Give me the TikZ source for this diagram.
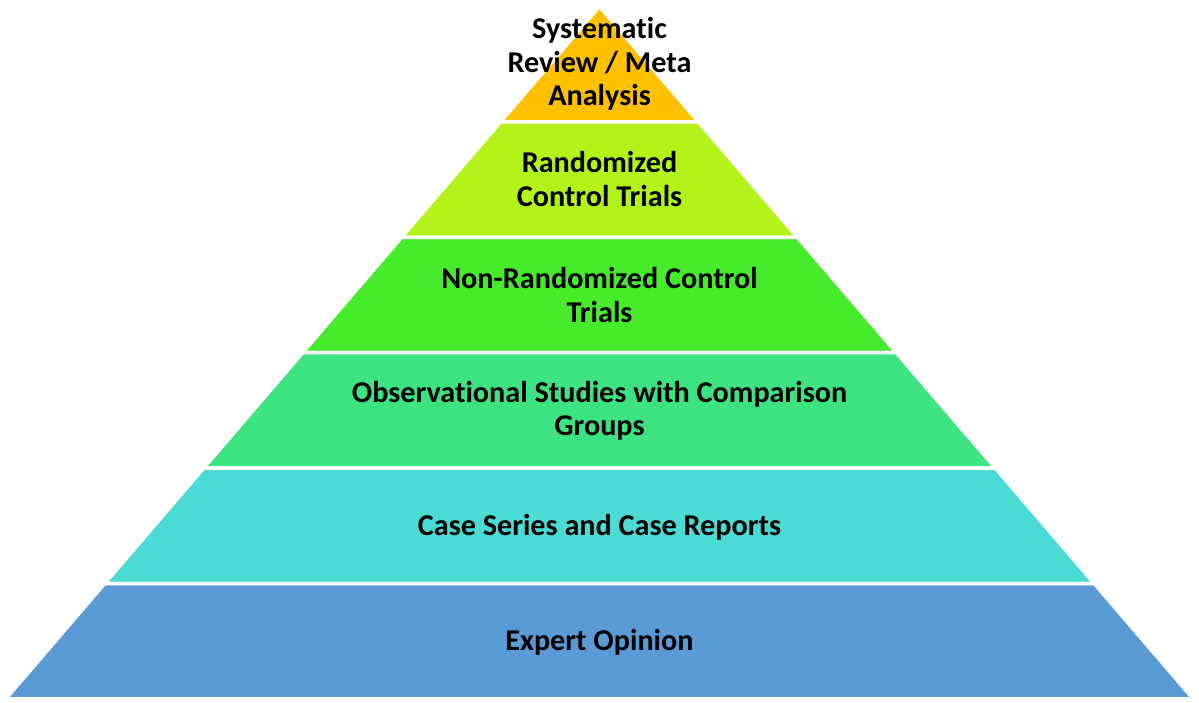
\documentclass[tikz,border=0pt]{standalone}
\usepackage{fontspec}
\setmainfont[Ligatures=NoCommon]{Carlito}
\usetikzlibrary{positioning,calc}

\definecolor{tierSR}{HTML}{FFC000}
\definecolor{tierRCT}{HTML}{B3F31A}
\definecolor{tierNRCT}{HTML}{46EC2B}
\definecolor{tierObs}{HTML}{3DE380}
\definecolor{tierCase}{HTML}{4ADCD4}
\definecolor{tierExp}{HTML}{5B9BD5}

\begin{document}
\begin{tikzpicture}[
  x=1pt, y=-1pt,
  band/.style={draw=white, line width=3.5pt, line join=round},
  tier/.style={font=\bfseries\fontsize{30.2}{33.5}\selectfont, align=center, text=black, inner sep=0pt}
]
\useasboundingbox (0,0) rectangle (1199,703);

% pyramid bands, top to bottom
\foreach \c [count=\i from 0] in {tierSR,tierRCT,tierNRCT,tierObs,tierCase,tierExp} {
  \pgfmathsetmacro\yt{6.5+115.4*\i}
  \pgfmathsetmacro\yb{\yt+115.4}
  \pgfmathsetmacro\wt{0.8575*(\yt-6.5)}
  \pgfmathsetmacro\wb{0.8575*(\yb-6.5)}
  \filldraw[band, fill=\c] ({599.5-\wt},\yt) -- ({599.5+\wt},\yt)
    -- ({599.5+\wb},\yb) -- ({599.5-\wb},\yb) -- cycle;
}

\node[tier] (review)  at (599.5,64)  {Systematic\\Review / Meta\\Analysis};
\node[tier] (rct)     at (599.5,179) {Randomized\\Control Trials};
\node[tier] (nrct)    at (599.5,295) {Non-Randomized Control\\Trials};
\node[tier] (obs)     at (599.5,411) {Observational Studies with Comparison\\Groups};
\node[tier] (cases)   at (599.5,527) {Case Series and Case Reports};
\node[tier] (opinion) at (599.5,642) {Expert Opinion};
\end{tikzpicture}
\end{document}
